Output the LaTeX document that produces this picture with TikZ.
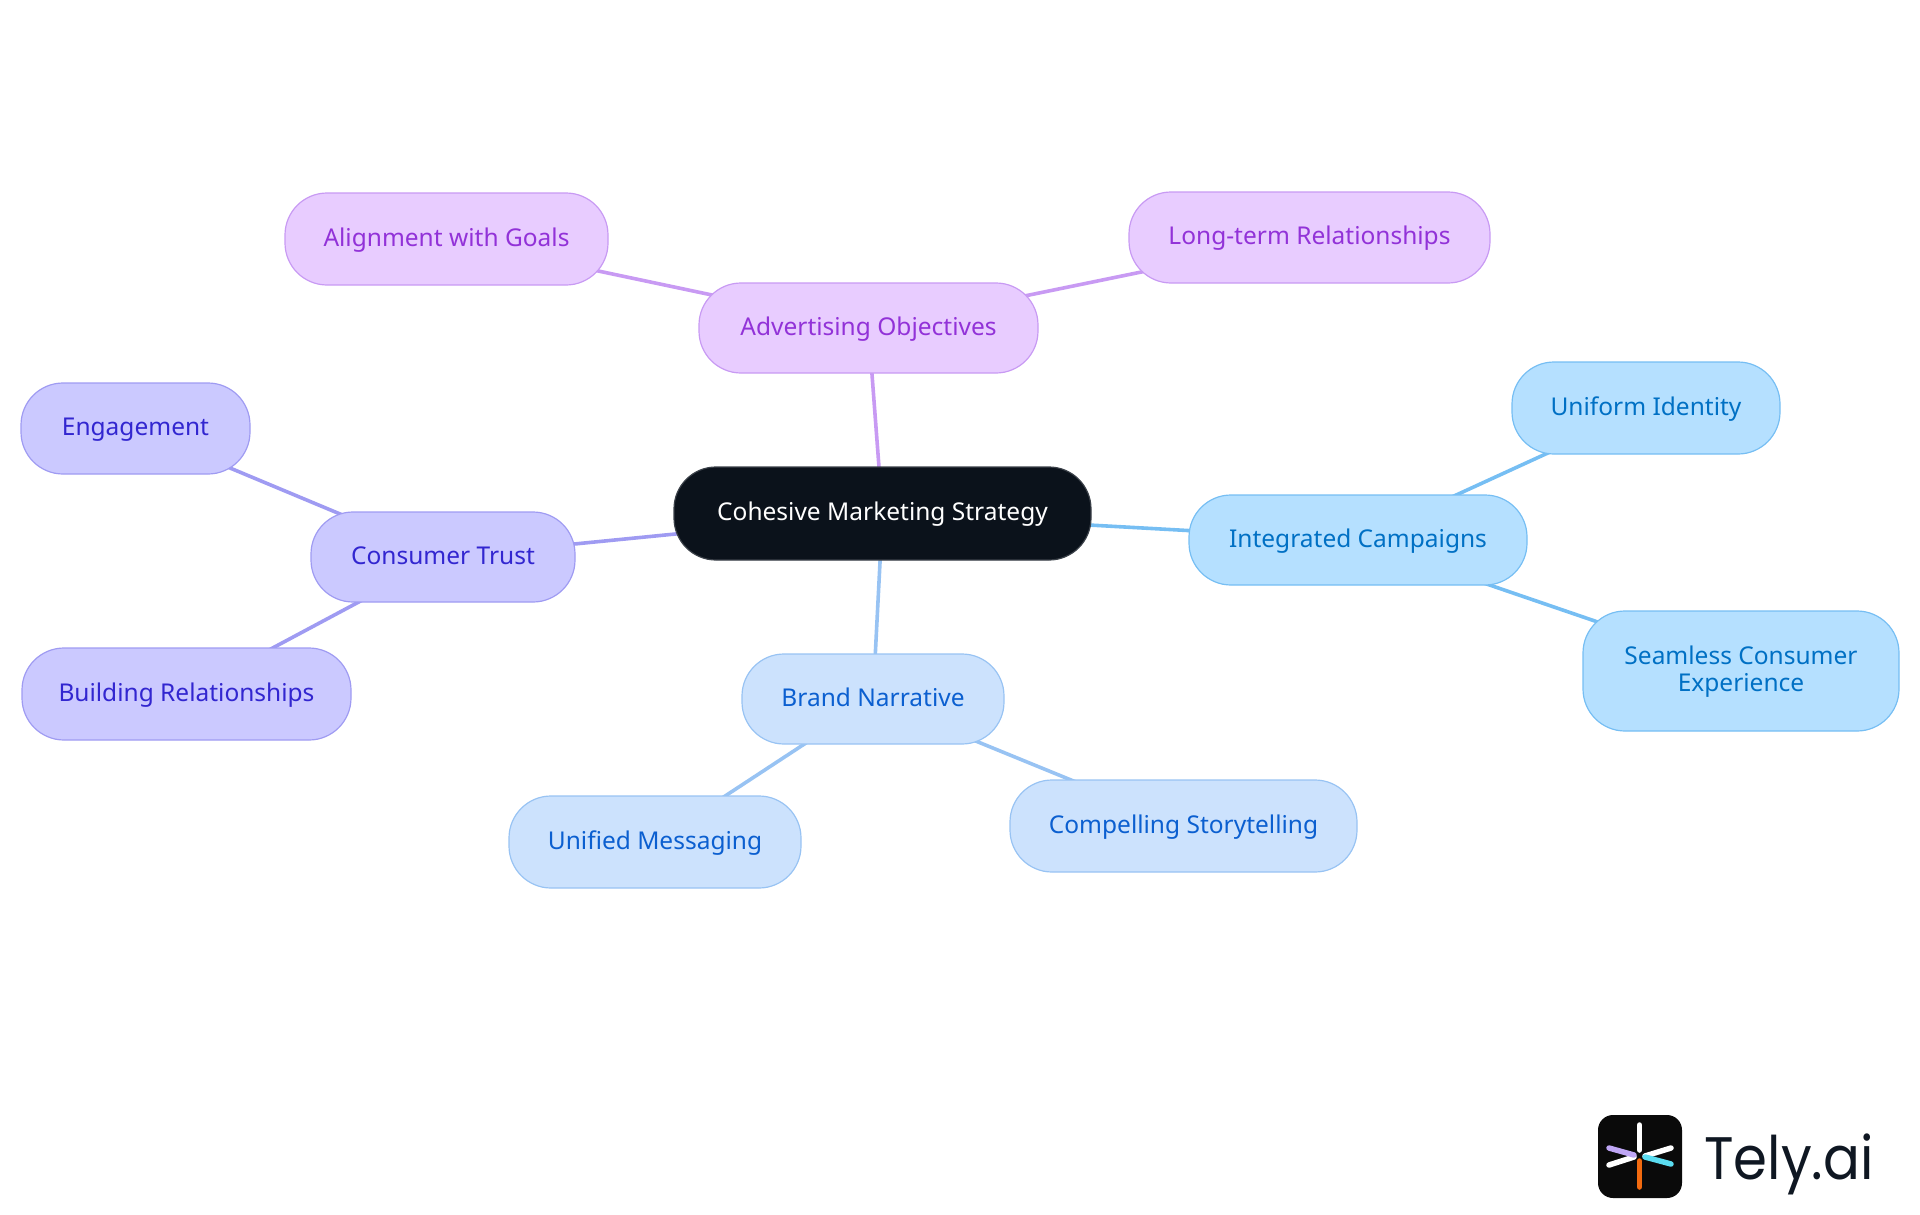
\documentclass[tikz,border=0pt]{standalone}
\usepackage{fontspec}
\setmainfont{Noto Sans}
\newfontfamily\logofont{Poppins}
\usetikzlibrary{backgrounds}
\definecolor{rootfill}{HTML}{0B121B}
\definecolor{rootline}{HTML}{3A4048}
\definecolor{purfill}{HTML}{E8CCFF}
\definecolor{purline}{HTML}{C89AF3}
\definecolor{purtext}{HTML}{9232D8}
\definecolor{cyanfill}{HTML}{B5E0FF}
\definecolor{cyanline}{HTML}{76BEF3}
\definecolor{cyantext}{HTML}{0070C4}
\definecolor{bluefill}{HTML}{CCE2FD}
\definecolor{blueline}{HTML}{98C3F3}
\definecolor{bluetext}{HTML}{0B5FD0}
\definecolor{indfill}{HTML}{CBC9FF}
\definecolor{indline}{HTML}{9F9BF2}
\definecolor{indtext}{HTML}{3226D0}
\definecolor{logoblack}{HTML}{0A0A0A}
\definecolor{logotext}{HTML}{0F1722}
\definecolor{logoorange}{HTML}{F26A0F}
\definecolor{logocyan}{HTML}{5ADCF0}
\definecolor{logopurple}{HTML}{BFA6F5}
\tikzset{
  x=1pt,y=-1pt,
  pill/.style={rounded corners=42pt,line width=1.2pt,align=center,inner sep=0pt,
    font=\fontsize{24.5}{27}\selectfont},
  rootpill/.style={pill,fill=rootfill,draw=rootline,text=white},
  purpill/.style={pill,fill=purfill,draw=purline,text=purtext},
  cyanpill/.style={pill,fill=cyanfill,draw=cyanline,text=cyantext},
  bluepill/.style={pill,fill=bluefill,draw=blueline,text=bluetext},
  indpill/.style={pill,fill=indfill,draw=indline,text=indtext},
  link/.style={line width=3.6pt},
  spoke/.style={line width=5.5pt,line cap=round},
}
\newcommand{\boxat}[7]{% style, name, x0, y0, x1, y1, text
  \node[#1,minimum width={(#5)-(#3)},minimum height={(#6)-(#4)}] (#2) at ({((#3)+(#5))/2},{((#4)+(#6))/2}) {\rule{0pt}{20.2pt}#7\rule[-6pt]{0pt}{6pt}};}
\begin{document}
\begin{tikzpicture}
\useasboundingbox (0,0) rectangle (1920,1215);
\boxat{rootpill}{root}{674}{467}{1091}{560}{Cohesive Marketing Strategy}
\boxat{purpill}{adv}{699}{283}{1038}{373}{Advertising Objectives}
\boxat{purpill}{align}{285}{193}{608}{285}{Alignment with Goals}
\boxat{purpill}{long}{1129}{192}{1490}{283}{Long-term Relationships}
\boxat{cyanpill}{integ}{1189}{495}{1527}{585}{Integrated Campaigns}
\boxat{cyanpill}{unif}{1512}{362}{1780}{454}{Uniform Identity}
\boxat{cyanpill}{seam}{1583}{611}{1899}{731}{Seamless Consumer\\Experience}
\boxat{bluepill}{brand}{742}{654}{1004}{744}{Brand Narrative}
\boxat{bluepill}{msg}{509}{796}{801}{888}{Unified Messaging}
\boxat{bluepill}{story}{1010}{780}{1357}{872}{Compelling Storytelling}
\boxat{indpill}{trust}{311}{512}{575}{602}{Consumer Trust}
\boxat{indpill}{eng}{21}{383}{250}{474}{Engagement}
\boxat{indpill}{build}{22}{648}{351}{740}{Building Relationships}
\begin{pgfonlayer}{background}
\draw[link,purline] (root.center) -- (adv.center);
\draw[link,purline] (adv.center) -- (align.center);
\draw[link,purline] (adv.center) -- (long.center);
\draw[link,cyanline] (root.center) -- (integ.center);
\draw[link,cyanline] (integ.center) -- (unif.center);
\draw[link,cyanline] (integ.center) -- (seam.center);
\draw[link,blueline] (root.center) -- (brand.center);
\draw[link,blueline] (brand.center) -- (msg.center);
\draw[link,blueline] (brand.center) -- (story.center);
\draw[link,indline] (root.center) -- (trust.center);
\draw[link,indline] (trust.center) -- (eng.center);
\draw[link,indline] (trust.center) -- (build.center);
\end{pgfonlayer}
% logo
\fill[logoblack,rounded corners=15pt] (1598,1115) rectangle (1682,1198);
\draw[spoke,white] (1639.5,1125) -- (1639.5,1150);
\draw[spoke,white] (1609,1165) -- (1634,1157);
\draw[spoke,white] (1671,1148) -- (1645,1156);
\draw[spoke,logopurple] (1609,1148) -- (1634,1155);
\draw[spoke,logocyan] (1671,1164) -- (1645,1157);
\draw[spoke,logoorange] (1639.5,1161) -- (1639.5,1187);
\node[anchor=base west,inner sep=0pt,text=logotext,font=\logofont\fontsize{60}{60}\selectfont] (logo) at (1704,1179) {\scalebox{0.91}[1]{Tely.ai}};
\end{tikzpicture}
\end{document}
